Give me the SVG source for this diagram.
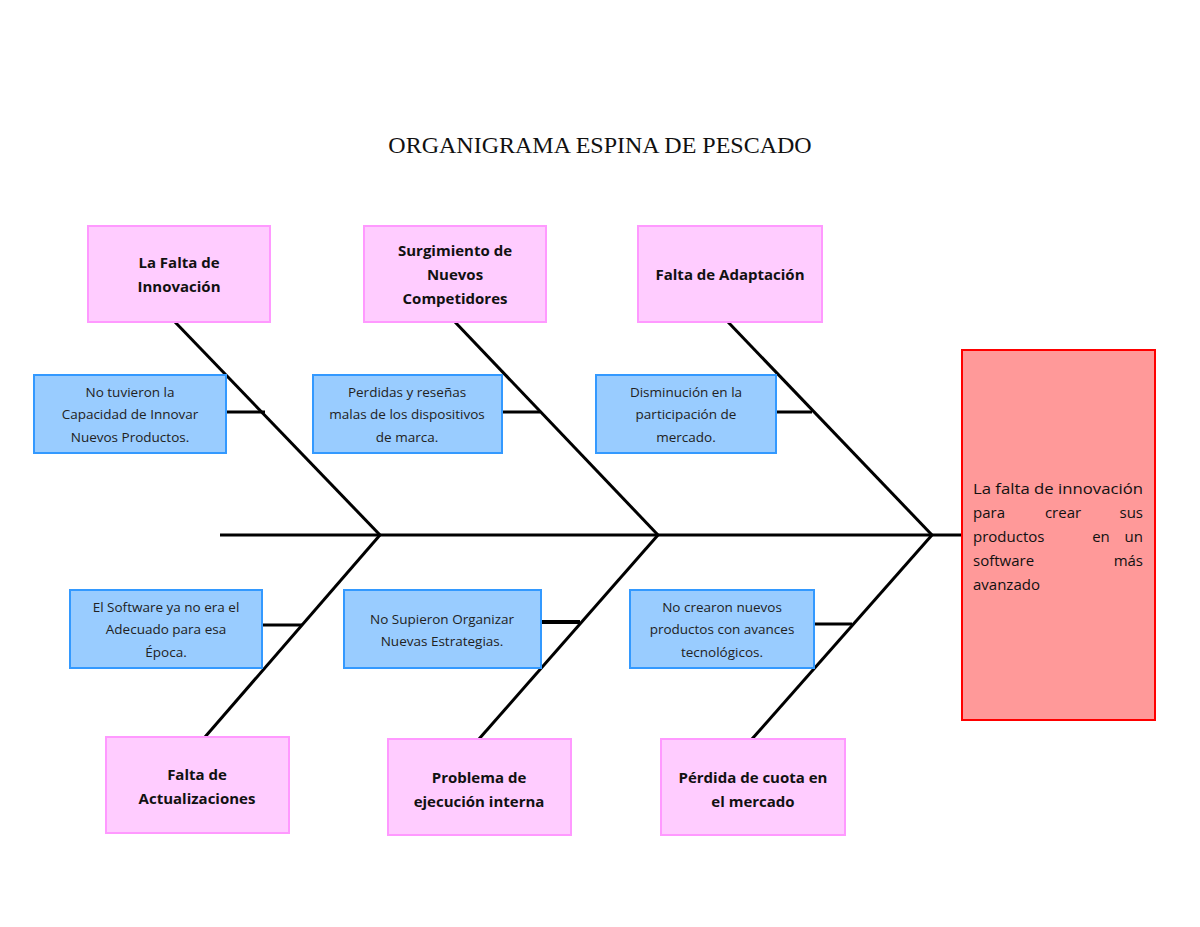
<svg xmlns="http://www.w3.org/2000/svg" width="1200" height="927" viewBox="0 0 1200 927">
<style>
.bg{fill:#ffffff}
.cat rect{fill:#FFCCFF;stroke:#FF99FF;stroke-width:2}
.cat text{font-family:"Open Sans","Noto Sans",sans-serif;font-size:15px;font-weight:bold;fill:#111;text-anchor:middle}
.cause rect{fill:#99CCFF;stroke:#3399FF;stroke-width:2}
.cause text{font-family:"Open Sans","Noto Sans",sans-serif;font-size:13.5px;fill:#222;text-anchor:middle}
.eff rect{fill:#FF9999;stroke:#FF0000;stroke-width:2}
.eff text{font-family:"Open Sans","Noto Sans",sans-serif;font-size:15px;fill:#111}
.title{font-family:"Liberation Serif",serif;font-size:24px;fill:#111;text-anchor:middle}
#connectors line{stroke:#000;stroke-width:3;stroke-linecap:butt}
</style>
<rect class="bg" x="0" y="0" width="1200" height="927"/>
<text class="title" x="600" y="153">ORGANIGRAMA ESPINA DE PESCADO</text>

<g id="connectors">
<line x1="220" y1="535" x2="962" y2="535"/>
<line x1="175" y1="322" x2="380" y2="535"/>
<line x1="455" y1="322" x2="658" y2="535"/>
<line x1="728" y1="322" x2="932" y2="535"/>
<line x1="380" y1="535" x2="205" y2="737"/>
<line x1="658" y1="535" x2="479" y2="739"/>
<line x1="932" y1="535" x2="752" y2="739"/>
<line x1="226" y1="412" x2="265" y2="412"/>
<line x1="502" y1="412" x2="540" y2="412"/>
<line x1="776" y1="412" x2="812" y2="412"/>
<line x1="262" y1="625" x2="302" y2="625"/>
<line x1="541" y1="622" x2="580" y2="622" style="stroke-width:4"/>
<line x1="814" y1="624" x2="852" y2="624"/>
</g>

<g id="cat1" class="cat"><rect x="88" y="226" width="182" height="96"/><text x="179" y="268">La Falta de</text><text x="179" y="292">Innovación</text></g>
<g id="cat2" class="cat"><rect x="364" y="226" width="182" height="96"/><text x="455" y="256">Surgimiento de</text><text x="455" y="280">Nuevos</text><text x="455" y="304">Competidores</text></g>
<g id="cat3" class="cat"><rect x="638" y="226" width="184" height="96"/><text x="730" y="280">Falta de Adaptación</text></g>
<g id="cat4" class="cat"><rect x="106" y="737" width="183" height="96"/><text x="197" y="780">Falta de</text><text x="197" y="804">Actualizaciones</text></g>
<g id="cat5" class="cat"><rect x="388" y="739" width="183" height="96"/><text x="479" y="783">Problema de</text><text x="479" y="807">ejecución interna</text></g>
<g id="cat6" class="cat"><rect x="661" y="739" width="184" height="96"/><text x="753" y="783">Pérdida de cuota en</text><text x="753" y="807">el mercado</text></g>

<g id="cause1" class="cause"><rect x="34" y="375" width="192" height="78"/><text x="130" y="397">No tuvieron la</text><text x="130" y="419">Capacidad de Innovar</text><text x="130" y="442">Nuevos Productos.</text></g>
<g id="cause2" class="cause"><rect x="313" y="375" width="189" height="78"/><text x="407" y="397">Perdidas y reseñas</text><text x="407" y="419">malas de los dispositivos</text><text x="407" y="442">de marca.</text></g>
<g id="cause3" class="cause"><rect x="596" y="375" width="180" height="78"/><text x="686" y="397">Disminución en la</text><text x="686" y="419">participación de</text><text x="686" y="442">mercado.</text></g>
<g id="cause4" class="cause"><rect x="70" y="590" width="192" height="78"/><text x="166" y="612">El Software ya no era el</text><text x="166" y="634">Adecuado para esa</text><text x="166" y="657">Época.</text></g>
<g id="cause5" class="cause"><rect x="344" y="590" width="197" height="78"/><text x="442" y="624">No Supieron Organizar</text><text x="442" y="646">Nuevas Estrategias.</text></g>
<g id="cause6" class="cause"><rect x="630" y="590" width="184" height="78"/><text x="722" y="612">No crearon nuevos</text><text x="722" y="634">productos con avances</text><text x="722" y="657">tecnológicos.</text></g>

<g id="effect" class="eff"><rect x="962" y="350" width="193" height="370"/>
<text x="973" y="494" textLength="170" lengthAdjust="spacingAndGlyphs">La falta de innovación</text>
<text x="973" y="518">para</text><text x="1063" y="518" style="text-anchor:middle">crear</text><text x="1143" y="518" style="text-anchor:end">sus</text>
<text x="973" y="542">productos</text><text x="1101" y="542" style="text-anchor:middle">en</text><text x="1143" y="542" style="text-anchor:end">un</text>
<text x="973" y="566">software</text><text x="1143" y="566" style="text-anchor:end">más</text>
<text x="973" y="590">avanzado</text>
</g>
</svg>
